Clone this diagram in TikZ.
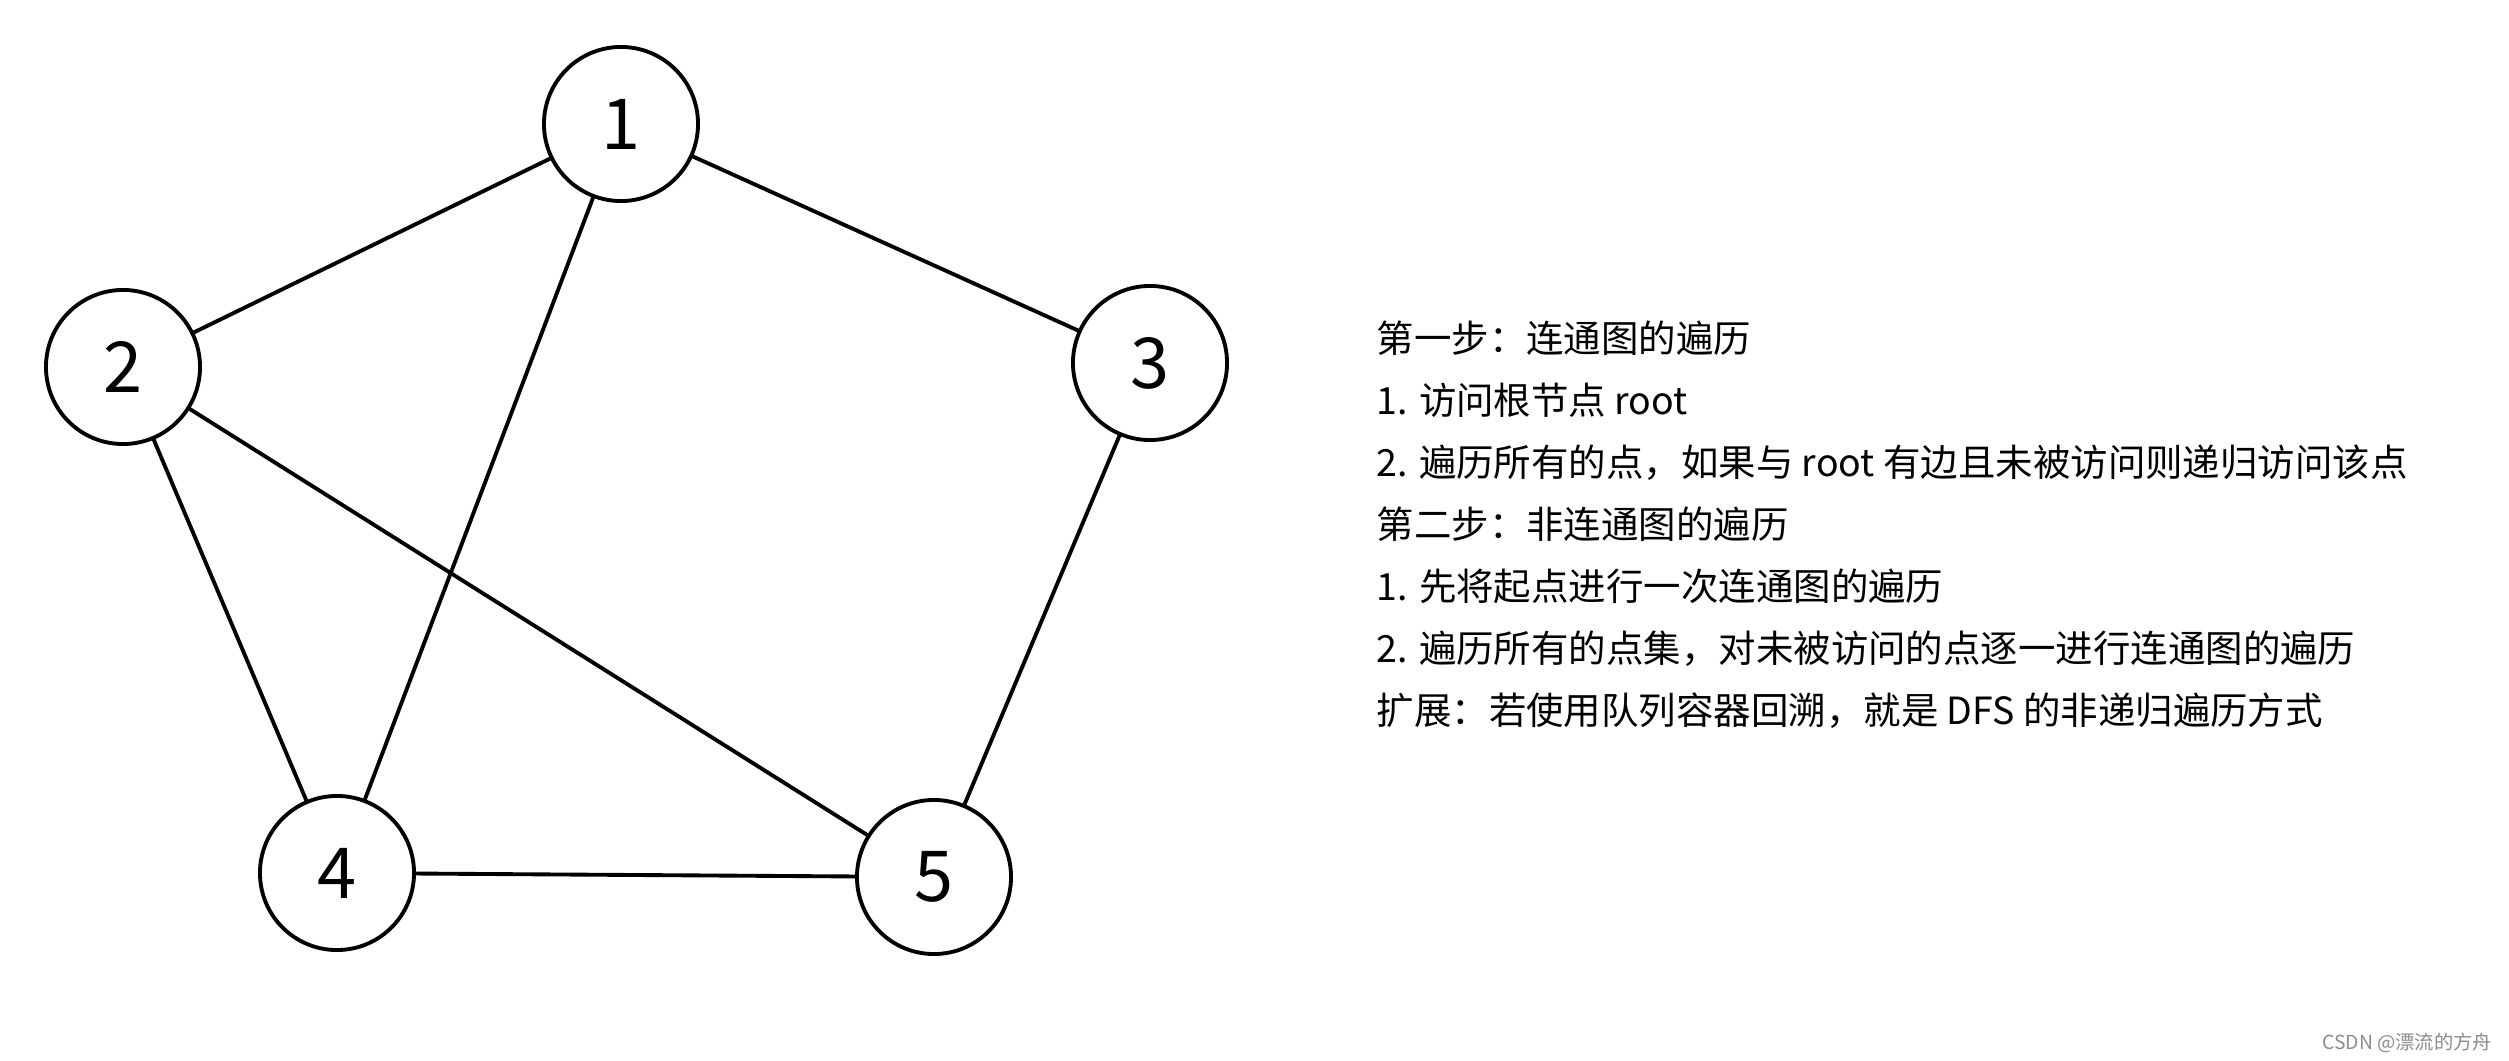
\documentclass[tikz,border=0pt]{standalone}
\usepackage{fontspec}
\newfontfamily\cjk{Noto Sans CJK SC}
\begin{document}
\begin{tikzpicture}[x=0.01cm, y=-0.01cm, line cap=round, line join=round,
	vertex/.style={circle, draw, line width=1.1pt, minimum size=1.54cm, inner sep=0pt,
		font=\cjk\fontsize{20}{24}\selectfont},
	edge/.style={line width=1.1pt},
	note/.style={anchor=base west, inner sep=0pt, font=\cjk\fontsize{10.65}{13}\selectfont},
	wmark/.style={anchor=base east, inner sep=0pt, text=black!45, font=\cjk\fontsize{5.5}{7}\selectfont}]
	% Define window bounds (pixel units, y downwards)
	\useasboundingbox (0,0) rectangle (2509,1061);
	
	% Vertices of the graph
	\node[vertex] (v1) at (621,124) {1};
	\node[vertex] (v2) at (123,367) {2};
	\node[vertex] (v3) at (1150,363) {3};
	\node[vertex] (v4) at (337,873) {4};
	\node[vertex] (v5) at (934,877) {5};
	
	% Edges
	\draw[edge] (v1) -- (v2);
	\draw[edge] (v1) -- (v3);
	\draw[edge] (v1) -- (v4);
	\draw[edge] (v2) -- (v4);
	\draw[edge] (v2) -- (v5);
	\draw[edge] (v3) -- (v5);
	\draw[edge] (v4) -- (v5);
	
	% Notes on the traversal
	\foreach \t [count=\i] in {%
		{第一步：连通图的遍历},
		{1. 访问根节点 root},
		{2. 遍历所有的点，如果与 root 有边且未被访问则递归访问该点},
		{第二步：非连通图的遍历},
		{1. 先将起点进行一次连通图的遍历},
		{2. 遍历所有的点集，对未被访问的点逐一进行连通图的遍历},
		{扩展：若使用队列容器回溯，就是 DFS 的非递归遍历方式}}
		\node[note] (line\i) at (1376, {353+(\i-1)*61.9}) {\t};
	
	% Watermark
	\node[wmark] (credit) at (2493,1049) {CSDN @漂流的方舟};
\end{tikzpicture}
\end{document}
